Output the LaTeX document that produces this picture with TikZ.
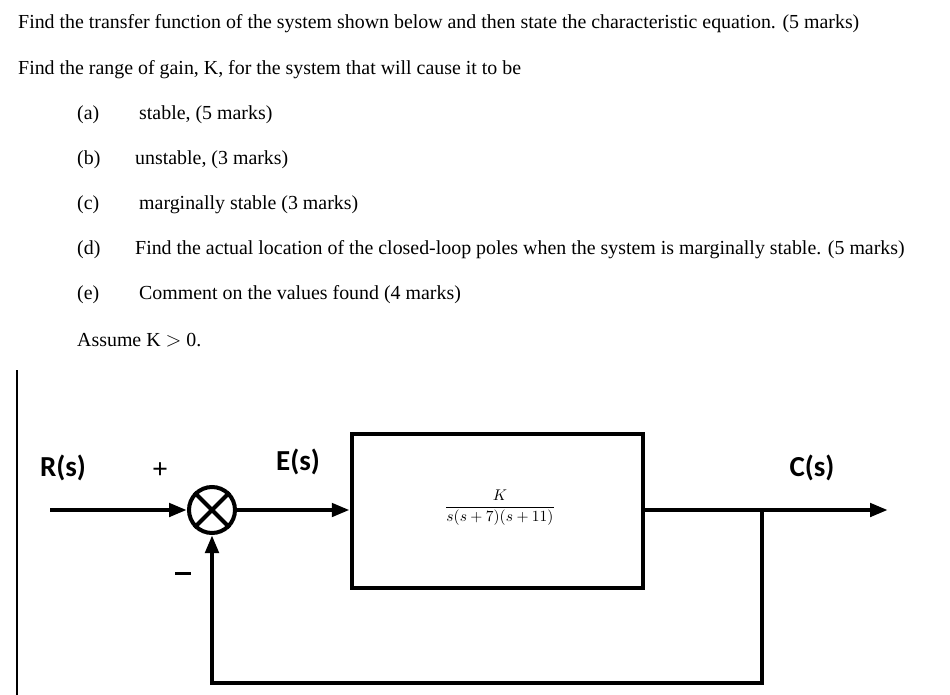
\documentclass[tikz,border=0pt]{standalone}
\usepackage{fontspec}
\usepackage{graphicx}
\setmainfont{Liberation Serif}
\newfontfamily\lab{Carlito}
\usetikzlibrary{arrows.meta}
\begin{document}
\begin{tikzpicture}[x=1pt,y=-1pt,
  q/.style={anchor=west,inner sep=0pt,font=\fontsize{19.9}{22}\selectfont},
  lbl/.style={inner sep=0pt,font=\lab\bfseries\fontsize{29}{30}\selectfont},
  wire/.style={line width=4.5pt},
  arr/.style={wire,-{Triangle[length=18pt,width=13pt]}}]
\useasboundingbox (0,0) rectangle (950,695);
\node[q] (t1) at (18,24) {Find the transfer function of the system shown below and then state the characteristic equation. (5 marks)};
\node[q] (t2) at (18,70) {Find the range of gain, K, for the system that will cause it to be};
\node[q] (la) at (77,115) {(a)}; \node[q] (ta) at (139,115) {stable, (5 marks)};
\node[q] (lb) at (77,160) {(b)}; \node[q] (tb) at (135,160) {unstable, (3 marks)};
\node[q] (lc) at (77,205) {(c)}; \node[q] (tc) at (139,205) {marginally stable (3 marks)};
\node[q] (ld) at (77,250) {(d)}; \node[q] (td) at (135,250) {Find the actual location of the closed-loop poles when the system is marginally stable. (5 marks)};
\node[q] (le) at (77,295) {(e)}; \node[q] (te) at (139,295) {Comment on the values found (4 marks)};
\node[q] (t3) at (77,340) {Assume K $>$ 0.};
\draw[line width=2.5pt] (17,370) -- (17,695);
% diagram
\node[draw,circle,line width=4pt,minimum size=46pt,inner sep=0pt] (sum) at (212,510) {};
\draw[line width=4pt] (sum.north west) -- (sum.south east) (sum.north east) -- (sum.south west);
\node[draw,line width=4.5pt,minimum width=291pt,minimum height=154pt,inner sep=0pt] (G) at (497.5,511) {};
\node[inner sep=0pt] (Gt) at (500,508) {\scalebox{1.55}{$\displaystyle\frac{K}{s(s+7)(s+11)}$}};
\coordinate (in) at (50,510);
\coordinate (out) at (888,510);
\coordinate (br) at (762,510);
\coordinate (b1) at (762,683);
\coordinate (b2) at (212,683);
\draw[arr] (in) -- (sum.west);
\draw[arr] (sum.east) -- (G.west |- sum.east);
\draw[arr] (G.east |- out) -- (out);
\draw[arr] (br) -- (b1) -- (b2) -- (sum.south);
\node[lbl] (R) at (63,468) {R(s)};
\node[lbl] (E) at (298,462) {E(s)};
\node[lbl] (C) at (812,468) {C(s)};
\node[inner sep=0pt,font=\bfseries\fontsize{28}{28}\selectfont] (plus) at (160,471) {+};
\draw[line width=3pt] (175,573) -- (191,573);
\end{tikzpicture}
\end{document}
